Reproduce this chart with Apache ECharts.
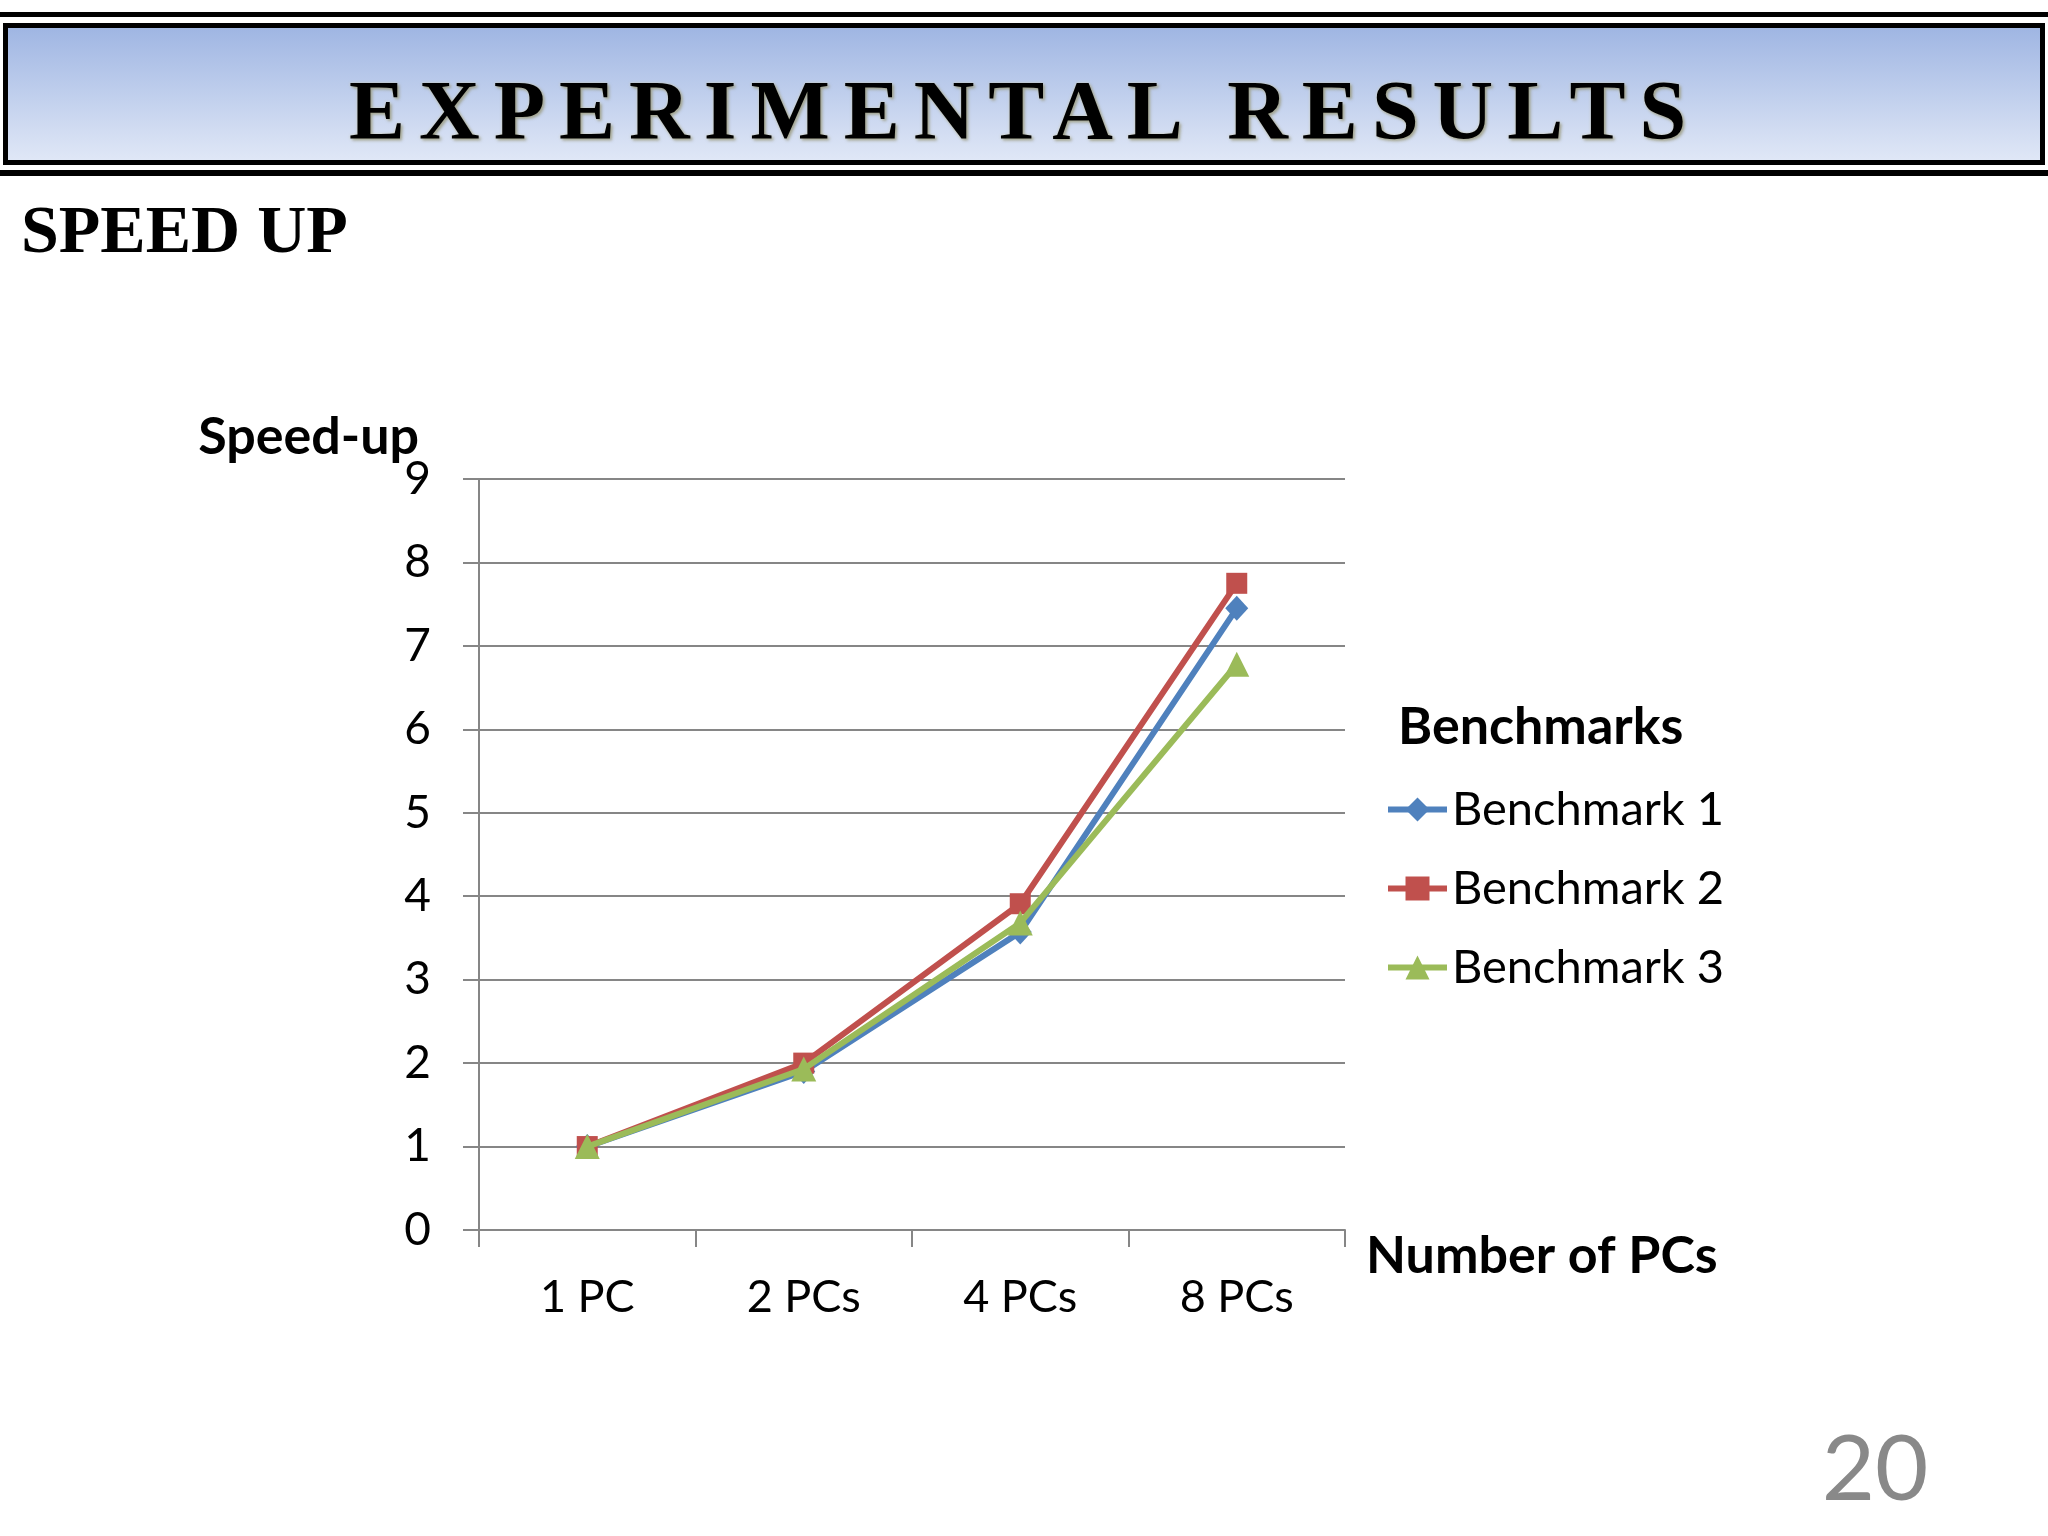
<!DOCTYPE html>
<html>
<head>
<meta charset="utf-8">
<script src="https://cdn.jsdelivr.net/npm/echarts@6/dist/echarts.min.js"></script>
<style>
  html, body { margin: 0; padding: 0; background: #ffffff; }
  #chart { position: absolute; left: 0; top: 0; width: 2048px; height: 1536px; }
  #slideTitle {
    position: absolute; left: 349px; top: 69px; margin: 0;
    font-family: "Liberation Serif", "DejaVu Serif", serif; font-weight: bold;
    font-size: 84px; line-height: 84px; letter-spacing: 14px; color: #000;
    white-space: nowrap; z-index: 5;
    text-shadow: 2px 2px 3px rgba(150,150,120,0.75), 0 0 3px rgba(205,205,180,0.9);
  }
</style>
</head>
<body>
<div id="chart"></div>
<div id="slideTitle">EXPERIMENTAL RESULTS</div>
<script>
// ---- data ----
const categories = ['1 PC', '2 PCs', '4 PCs', '8 PCs'];
const seriesNames = ['Benchmark 1', 'Benchmark 2', 'Benchmark 3'];
const bench1 = [1, 1.9, 3.57, 7.45];
const bench2 = [1, 2.0, 3.91, 7.75];
const bench3 = [1, 1.93, 3.68, 6.78];
const yMin = 0, yMax = 9, yStep = 1;
const yAxisTitle = 'Speed-up';
const xAxisTitle = 'Number of PCs';
const legendTitle = 'Benchmarks';
const subTitle = 'SPEED UP';
const pageNumber = '20';

const colors = ['#4F81BD', '#C0504D', '#9BBB59'];
const symbols = ['diamond', 'rect', 'triangle'];
const symbolSizes = [[23, 25], 21, 25];
const sans = 'Lato, "Open Sans", sans-serif';
const gridColor = '#868686';

const chart = echarts.init(document.getElementById('chart'), null, { renderer: 'canvas', width: 2048, height: 1536 });

const seriesData = [bench1, bench2, bench3];

chart.setOption({
  animation: false,
  backgroundColor: '#ffffff',
  color: colors,
  graphic: [
    { type: 'rect', shape: { x: 0, y: 12, width: 2048, height: 5 }, style: { fill: '#000' } },
    { type: 'rect', shape: { x: 5.5, y: 25.5, width: 2037, height: 137 },
      style: { fill: new echarts.graphic.LinearGradient(0, 0, 0, 1, [
        { offset: 0, color: '#9DB4E2' }, { offset: 1, color: '#E2E9F7' }]),
        stroke: '#000', lineWidth: 5 } },
    { type: 'rect', shape: { x: 0, y: 170, width: 2048, height: 6 }, style: { fill: '#000' } },
    { type: 'text', x: 21, y: 234, style: { text: subTitle, fill: '#000',
        font: 'bold 68px "Liberation Serif", serif', textVerticalAlign: 'middle', textAlign: 'left' } },
    { type: 'text', x: 1398, y: 727, style: { text: legendTitle, fill: '#000',
        font: 'bold 52px ' + sans, textVerticalAlign: 'middle', textAlign: 'left' } },
    { type: 'text', x: 1875, y: 1470, style: { text: pageNumber, fill: '#898989',
        font: '92px ' + sans, textVerticalAlign: 'middle', textAlign: 'center' } }
  ],
  grid: { left: 479, right: 703, top: 479, bottom: 306, containLabel: false, outerBoundsMode: 'none' },
  legend: {
    data: seriesNames, orient: 'vertical', left: 1385, top: 786, padding: 0,
    itemWidth: 59, itemHeight: 30, itemGap: 32,
    lineStyle: { width: 6 },
    textStyle: { fontFamily: sans, fontSize: 47, color: '#000' }
  },
  xAxis: {
    type: 'category', data: categories, boundaryGap: true,
    name: xAxisTitle, nameLocation: 'end', nameGap: 21, nameMoveOverlap: false,
    nameTextStyle: { fontFamily: sans, fontWeight: 'bold', fontSize: 52, color: '#000',
      align: 'left', verticalAlign: 'top' },
    axisLine: { show: true, lineStyle: { color: gridColor, width: 2 } },
    axisTick: { show: true, alignWithLabel: false, length: 17, lineStyle: { color: gridColor, width: 2 } },
    axisLabel: { fontFamily: sans, fontSize: 45, color: '#000', margin: 45, lineHeight: 45 },
    splitLine: { show: false }
  },
  yAxis: {
    type: 'value', min: yMin, max: yMax, interval: yStep,
    name: yAxisTitle, nameLocation: 'end', nameGap: 42, nameMoveOverlap: false,
    nameTextStyle: { fontFamily: sans, fontWeight: 'bold', fontSize: 52, color: '#000',
      align: 'right', verticalAlign: 'middle', padding: [0, 60, 0, 0] },
    axisLine: { show: true, lineStyle: { color: gridColor, width: 2 } },
    axisTick: { show: true, length: 16, lineStyle: { color: gridColor, width: 2 } },
    axisLabel: { fontFamily: sans, fontSize: 46, color: '#000', margin: 48 },
    splitLine: { show: true, lineStyle: { color: gridColor, width: 2 } }
  },
  series: seriesNames.map((name, i) => ({
    name: name, type: 'line', data: seriesData[i],
    symbol: symbols[i], symbolSize: symbolSizes[i], showSymbol: true,
    lineStyle: { width: 6, color: colors[i] },
    itemStyle: { color: colors[i] },
    z: 2 + i
  }))
});
</script>
</body>
</html>
